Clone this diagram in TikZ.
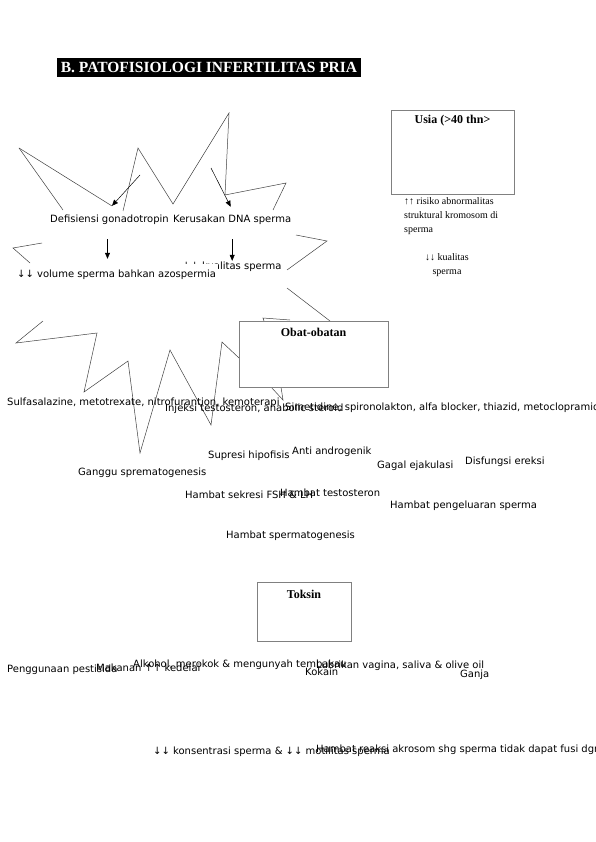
\documentclass[tikz,border=0pt]{standalone}
\usepackage{fontspec}
\setmainfont{Liberation Serif}
\setsansfont{DejaVu Sans}
\usetikzlibrary{arrows.meta,positioning}
\definecolor{starGray}{RGB}{64,64,64}
\definecolor{boxGray}{RGB}{128,128,128}

\begin{document}
\begin{tikzpicture}[x=1pt,y=-1pt,
  lbl/.style={font=\sffamily\fontsize{10}{12}\selectfont,inner sep=0pt,anchor=west,text height=7.5pt,text depth=2.5pt},
  notetext/.style={font=\fontsize{10}{14}\selectfont,inner sep=0pt},
  boxtitle/.style={font=\bfseries\fontsize{12}{14}\selectfont,inner sep=0pt},
  boxframe/.style={draw=boxGray,fill=white,line width=0.8pt,inner sep=0pt},
  spike/.style={draw=starGray,line width=0.5pt},
  arr/.style={-{Triangle[length=6pt,width=5pt]},line width=0.5pt}]
\useasboundingbox (0,0) rectangle (595,842);

% Title
\node[fill=black,text=white,font=\bfseries\fontsize{15.5}{18}\selectfont,inner sep=0pt,minimum width=304pt,minimum height=19pt] (title) at (209,67.5) {B. PATOFISIOLOGI INFERTILITAS PRIA};

% Star outline
\draw[spike] (19,148) -- (63,210);
\draw[spike] (19,148) -- (112,206);
\draw[spike] (123,211) -- (138,148) -- (173,204) -- (229,113) -- (225,195) -- (286,183) -- (273,210);
\draw[spike] (296,235) -- (327,241) -- (287,270);
\draw[spike] (287,288) -- (330,321);
\draw[spike] (42,243) -- (13,248) -- (30,263);
\draw[spike] (43,321) -- (16,343) -- (97,333) -- (84,392) -- (128,361) -- (140,453) -- (170,350) -- (211,425) -- (222,342) -- (239,358);
\draw[spike] (264,321) -- (263,318) -- (290,320);
\draw[spike] (271,387) -- (283,400) -- (281,387);

% Usia
\node[boxframe,minimum width=123pt,minimum height=84pt] (usia) at (452.5,152) {};
\node[boxtitle] (usiatitle) at (452.5,121) {Usia (>40 thn>};
\node[notetext,align=left,anchor=north west] (risiko) at (404,197) {↑↑ risiko abnormalitas\\struktural kromosom di\\sperma};
\node[notetext,align=center,anchor=north] (kualitasusia) at (447,253) {↓↓ kualitas\\sperma};

% Star contents
\node[lbl] (kerusakan) at (173,220) {Kerusakan DNA sperma};
\node[lbl,fill=white,inner xsep=5.5pt] (defisiensi) at (44.5,220) {Defisiensi gonadotropin};
\node[lbl] (kualitas) at (182,267) {↓↓ kualitas sperma};
\node[lbl,fill=white,inner xsep=2pt,inner ysep=6pt] (volume) at (15,275) {↓↓ volume sperma bahkan azospermia};

\coordinate (dstart) at (140,175);
\coordinate (kstart) at (211,168);
\draw[arr] (dstart) -- ([xshift=2.5pt,yshift=9pt]defisiensi.north);
\draw[arr] (kstart) -- ([xshift=-1.5pt,yshift=8pt]kerusakan.north);
\draw[arr,shorten <=14pt,shorten >=5pt] ([xshift=-2pt]defisiensi.south) -- ([xshift=-2pt]defisiensi.south |- volume.north);
\draw[arr,shorten <=14pt,shorten >=1pt] (kerusakan.south) -- (kerusakan.south |- kualitas.north);

% Obat-obatan
\node[boxframe,minimum width=149pt,minimum height=66pt] (obat) at (313.5,354) {};
\node[boxtitle] (obattitle) at (313.5,332) {Obat-obatan};
\node[lbl] (sulfa) at (7,403) {Sulfasalazine, metotrexate, nitrofurantion, kemoterapi};
\node[lbl] (injeksi) at (165,409) {Injeksi testosteron, anabolic steroid};
\node[lbl] (simetidine) at (285,408) {Simetidine, spironolakton, alfa blocker, thiazid, metoclopramid};
\node[lbl] (supresi) at (208,456) {Supresi hipofisis};
\node[lbl] (antiandro) at (292,452) {Anti androgenik};
\node[lbl] (gagal) at (377,466) {Gagal ejakulasi};
\node[lbl] (disfungsi) at (465,462) {Disfungsi ereksi};
\node[lbl] (ganggu) at (78,473) {Ganggu sprematogenesis};
\node[lbl] (fsh) at (185,496) {Hambat sekresi FSH \& LH};
\node[lbl] (hambattesto) at (280,494) {Hambat testosteron};
\node[lbl] (hambatkeluar) at (390,506) {Hambat pengeluaran sperma};
\node[lbl] (hambatsperm) at (226,536) {Hambat spermatogenesis};

% Toksin
\node[boxframe,minimum width=94pt,minimum height=59pt] (toksin) at (304,611.5) {};
\node[boxtitle] (toksintitle) at (304,594) {Toksin};
\node[lbl] (pestisida) at (7,670) {Penggunaan pestisida};
\node[lbl] (makanan) at (96,669) {Makanan ↑↑ kedelai};
\node[lbl] (alkohol) at (133,665) {Alkohol, merokok \& mengunyah tembakau};
\node[lbl] (kokain) at (305,673) {Kokain};
\node[lbl] (lubrikan) at (316,666) {Lubrikan vagina, saliva \& olive oil};
\node[lbl] (ganja) at (460,675) {Ganja};
\node[lbl] (konsentrasi) at (153,752) {↓↓ konsentrasi sperma \& ↓↓ motilitas sperma};
\node[lbl] (akrosom) at (316,750) {Hambat reaksi akrosom shg sperma tidak dapat fusi dgn ovum};
\end{tikzpicture}
\end{document}
